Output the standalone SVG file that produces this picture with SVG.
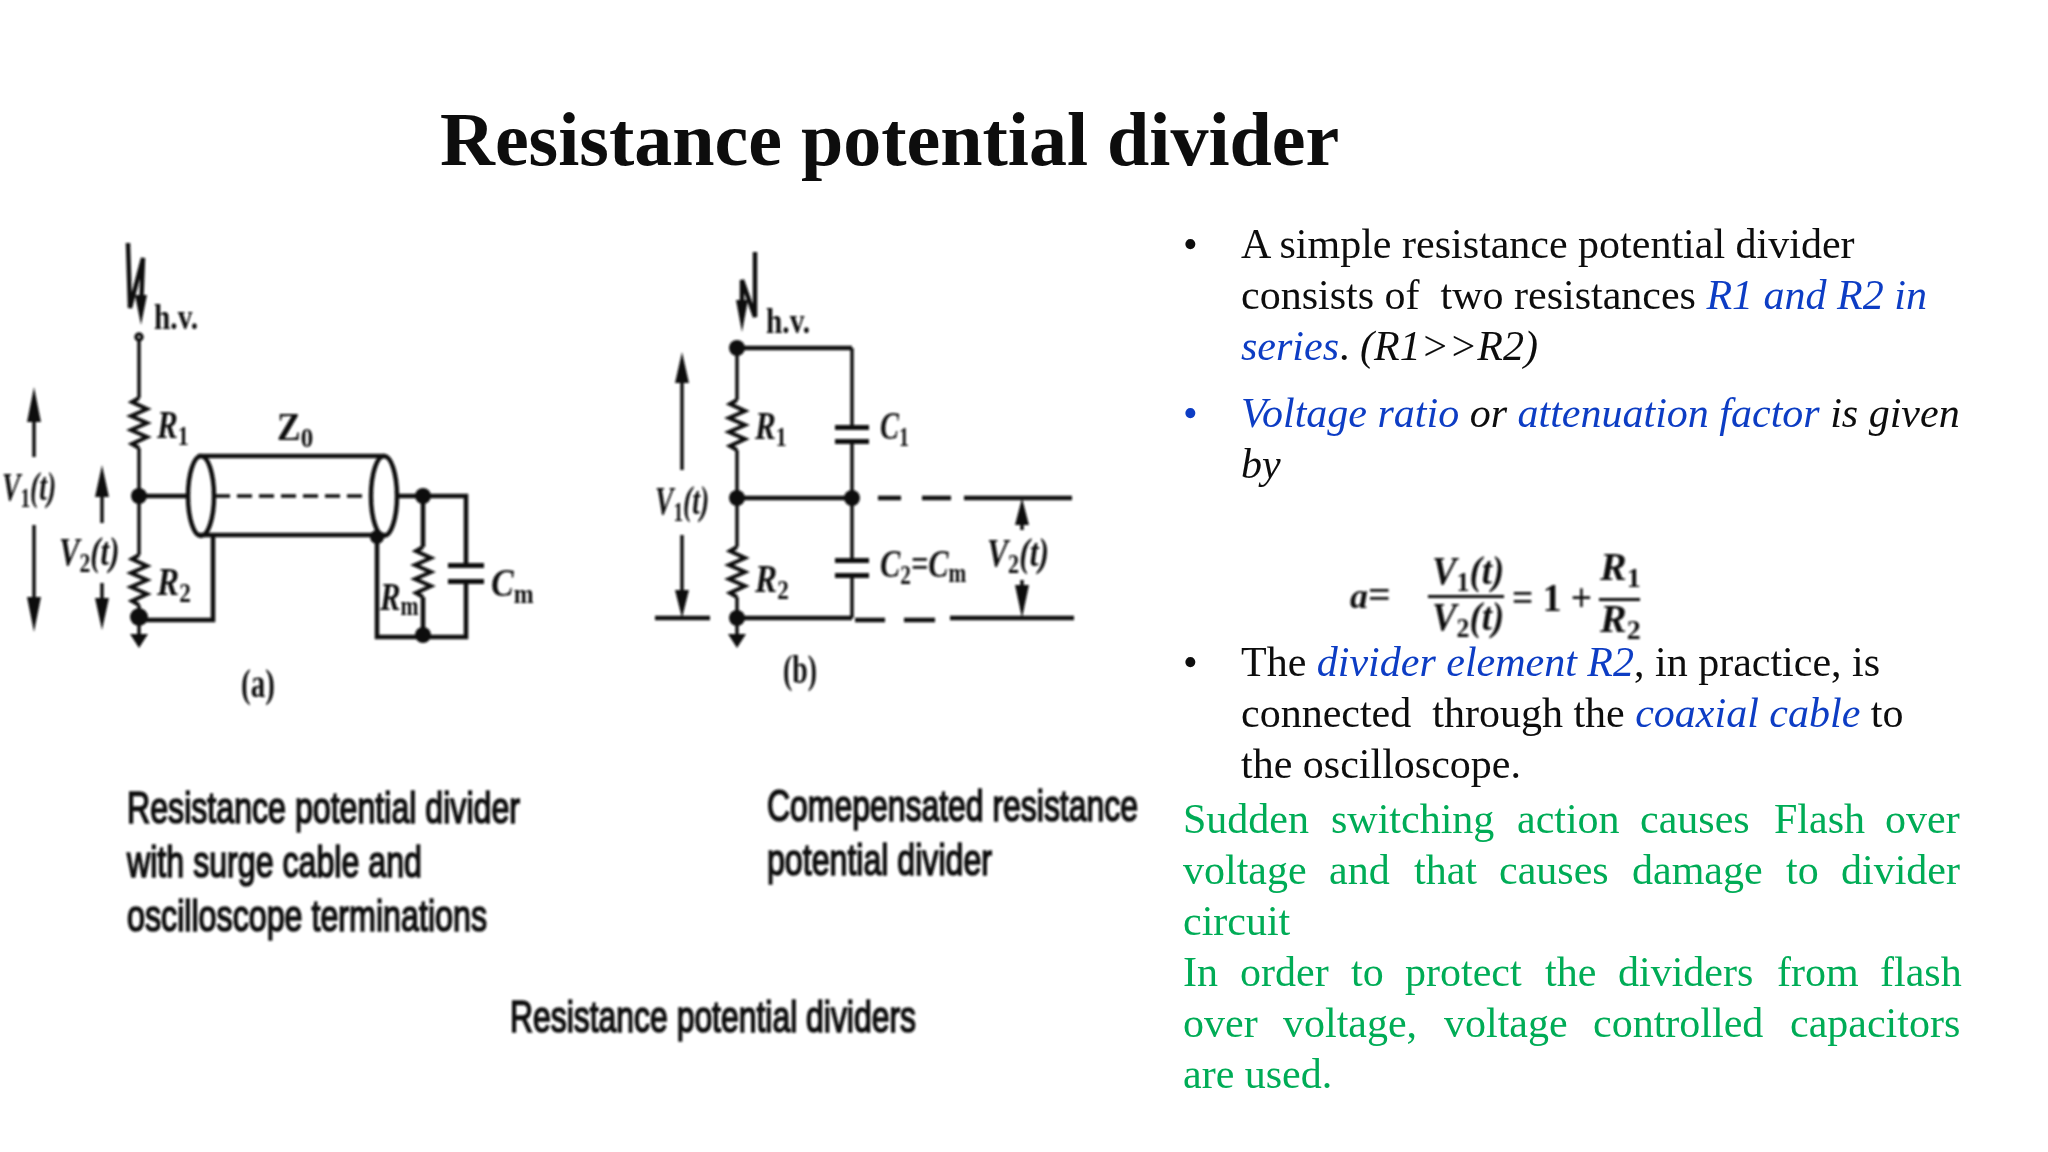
<svg xmlns="http://www.w3.org/2000/svg" width="2048" height="1152" viewBox="0 0 2048 1152">
<style>
.t{font-family:"Liberation Serif",serif;font-size:42px;fill:#0a0a0a}
.b{fill:#0b3cc4}.i{font-style:italic}
.g{font-family:"Liberation Serif",serif;font-size:42px;fill:#00ac57}
.w{fill:none;stroke:#111;stroke-width:4.5}
.n{fill:none;stroke:#111;stroke-width:3.5}
.d{fill:#111}
.l{font-family:"Liberation Serif",serif;font-weight:bold;font-size:40px;fill:#111}
.li{font-style:italic}
.c{font-family:"Liberation Sans",sans-serif;font-size:44px;fill:#111;stroke:#111;stroke-width:1.7}
.s{font-size:28px;font-style:normal}
</style>
<defs>
<filter id="soft" x="-5%" y="-5%" width="110%" height="110%"><feGaussianBlur stdDeviation="0.8"/></filter>
<filter id="soft2" x="-2%" y="-2%" width="104%" height="104%"><feGaussianBlur stdDeviation="0.35"/></filter>
<path id="res" d="M0 0L-7 4L8 11L-8 18L8 25L-8 32L8 39L-7 46L0 50" fill="none" stroke="#111" stroke-width="4"/>
</defs>
<rect width="2048" height="1152" fill="#fff"/>
<g id="title" filter="url(#soft2)"><text x="440" y="165" font-family="Liberation Serif,serif" font-weight="bold" font-size="76" fill="#0a0a0a">Resistance potential divider</text></g>

<g id="diagram-a" filter="url(#soft)">
<g id="connectors-a">
<path class="n" d="M139 340V398M139 448V555M139 605V643"/>
<path class="w" d="M139 496H190M396 496H466V565M466 580V637H377V537M423 496V547M423 597V637M213 537V620H139"/>
<path class="w" d="M198 456H385M198 535H385"/>
<path class="n" stroke-dasharray="15 7" d="M215 496H372"/>
<ellipse class="w" cx="201" cy="496" rx="13" ry="40"/>
<ellipse class="w" cx="384" cy="496" rx="13" ry="40"/>
<path class="w" d="M128 243L130 308L143 258L141 310"/>
<path class="d" d="M135 295H147L141 325Z"/>
<path class="n" d="M34 400V457M34 525V615M102 478V523M102 583V615"/>
<path class="d" d="M34 387L27 422H41ZM34 632L27 597H41ZM102 465L95 497H109ZM102 630L95 598H109ZM139 648L130 634H148Z"/>
</g>
<g id="node-r1-a"><use href="#res" x="139" y="398"/><text class="l li" transform="translate(157 438) scale(.78 1)">R<tspan class="s" dy="7">1</tspan></text></g>
<g id="node-r2-a"><use href="#res" x="139" y="555"/><text class="l li" transform="translate(157 595) scale(.83 1)">R<tspan class="s" dy="7">2</tspan></text></g>
<g id="node-rm"><use href="#res" x="423" y="547"/><text class="l li" transform="translate(380 610) scale(.77 1)">R<tspan class="s li" dy="5">m</tspan></text></g>
<g id="node-cm"><rect x="448" y="563" width="36" height="5" class="d"/><rect x="448" y="579" width="36" height="5" class="d"/><text class="l li" transform="translate(491 596) scale(.85 1)">C<tspan class="s li" dy="7">m</tspan></text></g>
<g id="labels-a">
<circle class="n" cx="139" cy="337" r="3"/>
<circle class="d" cx="139" cy="496" r="8"/><circle class="d" cx="139" cy="617" r="9"/><circle class="d" cx="423" cy="496" r="8"/><circle class="d" cx="423" cy="635" r="8"/><circle class="d" cx="377" cy="537" r="7"/>
<text class="l" x="154" y="329" textLength="44" lengthAdjust="spacingAndGlyphs" style="font-size:36px">h.v.</text>
<text class="l" transform="translate(277 440) scale(.89 1)">Z<tspan class="s" dy="7">0</tspan></text>
<text class="l li" transform="translate(2 500) scale(.69 1)">V<tspan class="s" dy="7">1</tspan><tspan dy="-7">(t)</tspan></text>
<text class="l li" transform="translate(59 565) scale(.77 1)">V<tspan class="s" dy="7">2</tspan><tspan dy="-7">(t)</tspan></text>
<text class="l" x="241" y="697" textLength="34" lengthAdjust="spacingAndGlyphs">(a)</text>
</g>
</g>

<g id="diagram-b" filter="url(#soft)">
<g id="connectors-b">
<path class="n" d="M737 348V400M737 450V547M737 597V645M852 348V427M852 440V560M852 575V618M682 370V470M682 535V610M1022 510V530M1022 580V610"/>
<path class="w" d="M737 348H852M737 498H852M737 618H852M655 618H710M878 498H901M922 498H951M964 498H1072M855 620H885M904 620H935M950 618H1074"/>
<path class="w" d="M755 252V317L742 280V312"/>
<path class="d" d="M736 300H748L742 332ZM682 352L675 383H689ZM682 618L675 590H689ZM1022 498L1015 525H1029ZM1022 618L1015 585H1029ZM737 648L728 634H746Z"/>
</g>
<g id="node-r1-b"><use href="#res" x="737" y="400"/><text class="l li" transform="translate(755 439) scale(.78 1)">R<tspan class="s" dy="7">1</tspan></text></g>
<g id="node-r2-b"><use href="#res" x="737" y="547"/><text class="l li" transform="translate(755 592) scale(.83 1)">R<tspan class="s" dy="7">2</tspan></text></g>
<g id="node-c1"><rect x="835" y="425" width="34" height="5" class="d"/><rect x="835" y="439" width="34" height="5" class="d"/><text class="l li" transform="translate(880 439) scale(.71 1)">C<tspan class="s" dy="7">1</tspan></text></g>
<g id="node-c2"><rect x="835" y="558" width="34" height="5" class="d"/><rect x="835" y="573" width="34" height="5" class="d"/><text class="l li" transform="translate(880 577) scale(.76 1)">C<tspan class="s" dy="7">2</tspan><tspan dy="-7">=C</tspan><tspan class="s li" dy="5">m</tspan></text></g>
<g id="labels-b">
<circle class="d" cx="737" cy="348" r="8"/><circle class="d" cx="737" cy="498" r="8"/><circle class="d" cx="852" cy="498" r="8"/><circle class="d" cx="737" cy="618" r="8"/>
<text class="l" x="766" y="333" textLength="44" lengthAdjust="spacingAndGlyphs" style="font-size:36px">h.v.</text>
<text class="l li" transform="translate(655 514) scale(.69 1)">V<tspan class="s" dy="7">1</tspan><tspan dy="-7">(t)</tspan></text>
<text class="l li" transform="translate(987 566) scale(.79 1)">V<tspan class="s" dy="7">2</tspan><tspan dy="-7">(t)</tspan></text>
<text class="l" x="783" y="683" textLength="34" lengthAdjust="spacingAndGlyphs">(b)</text>
</g>
</g>

<g id="captions" filter="url(#soft)">
<text class="c" x="127" y="823" textLength="393" lengthAdjust="spacingAndGlyphs">Resistance potential divider</text>
<text class="c" x="127" y="877" textLength="295" lengthAdjust="spacingAndGlyphs">with surge cable and</text>
<text class="c" x="127" y="931" textLength="360" lengthAdjust="spacingAndGlyphs">oscilloscope terminations</text>
<text class="c" x="767" y="821" textLength="371" lengthAdjust="spacingAndGlyphs">Comepensated resistance</text>
<text class="c" x="767" y="875" textLength="225" lengthAdjust="spacingAndGlyphs">potential divider</text>
<text class="c" x="510" y="1032" textLength="406" lengthAdjust="spacingAndGlyphs">Resistance potential dividers</text>
</g>

<g id="formula" filter="url(#soft)">
<text class="l li" x="1350" y="608" style="font-size:36px">a</text><text class="l" x="1368" y="608" style="font-size:40px">=</text>
<text class="l li" transform="translate(1432 584) scale(.92 1)">V<tspan class="s" dy="7">1</tspan><tspan dy="-7">(t)</tspan></text>
<rect x="1428" y="595" width="76" height="3" class="d"/>
<text class="l li" transform="translate(1432 630) scale(.92 1)">V<tspan class="s" dy="7">2</tspan><tspan dy="-7">(t)</tspan></text>
<text class="l" x="1512" y="611" textLength="80" lengthAdjust="spacingAndGlyphs">= 1 +</text>
<text class="l li" x="1600" y="580">R<tspan class="s" dy="7">1</tspan></text>
<rect x="1599" y="598" width="41" height="3" class="d"/>
<text class="l li" x="1600" y="632">R<tspan class="s" dy="7">2</tspan></text>
</g>

<g id="bullets" filter="url(#soft2)">
<text class="t" x="1183" y="258">•</text>
<text class="t" x="1241" y="258">A simple resistance potential divider</text>
<text class="t" x="1241" y="309" xml:space="preserve">consists of  two resistances <tspan class="b i">R1 and R2 in</tspan></text>
<text class="t" x="1241" y="360"><tspan class="b i">series</tspan>. <tspan class="i">(R1&gt;&gt;R2)</tspan></text>
<text class="t b" x="1183" y="427">•</text>
<text class="t i" x="1241" y="427"><tspan class="b">Voltage ratio</tspan> or <tspan class="b">attenuation factor</tspan> is given</text>
<text class="t i" x="1241" y="478">by</text>
<text class="t" x="1183" y="676">•</text>
<text class="t" x="1241" y="676">The <tspan class="b i">divider element R2</tspan>, in practice, is</text>
<text class="t" x="1241" y="727" xml:space="preserve">connected  through the <tspan class="b i">coaxial cable</tspan> to</text>
<text class="t" x="1241" y="778">the oscilloscope.</text>
</g>
<g id="green-text" filter="url(#soft2)">
<text class="g" y="833"><tspan x="1183">Sudden</tspan><tspan x="1331">switching</tspan><tspan x="1517">action</tspan><tspan x="1640">causes</tspan><tspan x="1774">Flash</tspan><tspan x="1885">over</tspan></text>
<text class="g" y="884"><tspan x="1183">voltage</tspan><tspan x="1329">and</tspan><tspan x="1414">that</tspan><tspan x="1499">causes</tspan><tspan x="1632">damage</tspan><tspan x="1786">to</tspan><tspan x="1841">divider</tspan></text>
<text class="g" x="1183" y="935">circuit</text>
<text class="g" y="986"><tspan x="1183">In</tspan><tspan x="1240">order</tspan><tspan x="1351">to</tspan><tspan x="1405">protect</tspan><tspan x="1545">the</tspan><tspan x="1618">dividers</tspan><tspan x="1777">from</tspan><tspan x="1880">flash</tspan></text>
<text class="g" y="1037"><tspan x="1183">over</tspan><tspan x="1283">voltage,</tspan><tspan x="1444">voltage</tspan><tspan x="1593">controlled</tspan><tspan x="1790">capacitors</tspan></text>
<text class="g" x="1183" y="1088">are used.</text>
</g>
</svg>
